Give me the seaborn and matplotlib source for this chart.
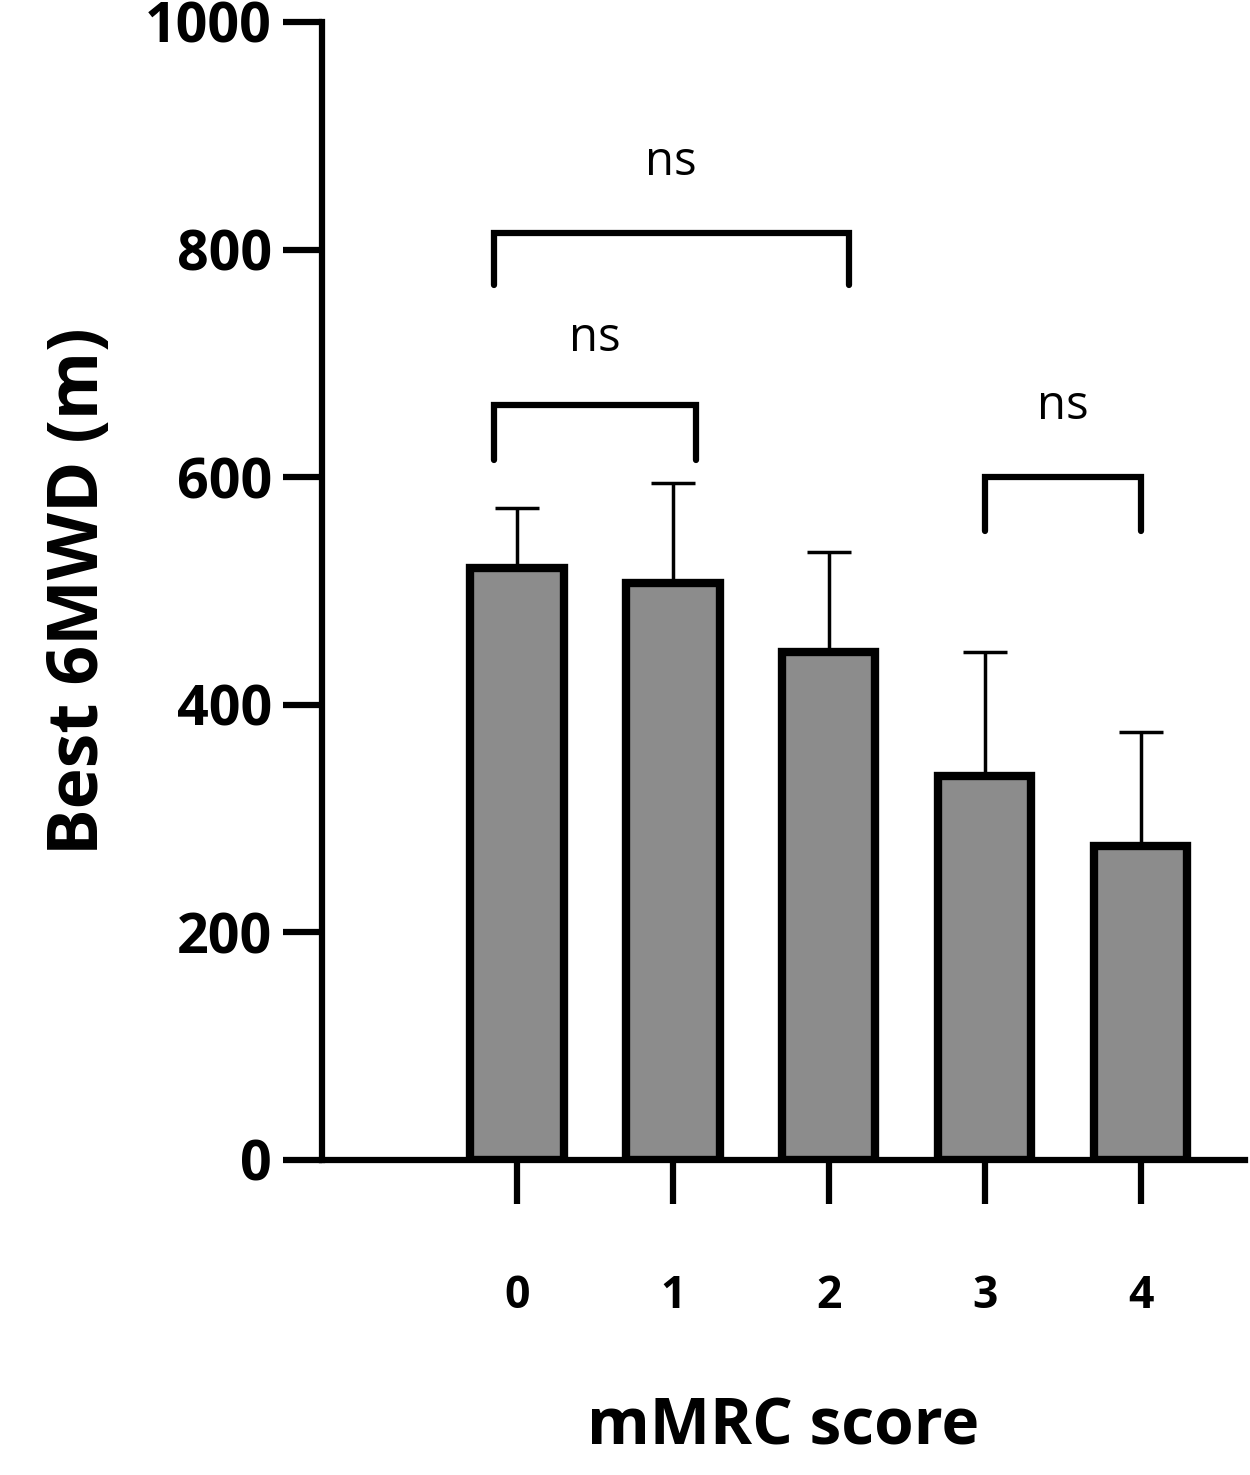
import matplotlib
matplotlib.use("Agg")
import matplotlib.pyplot as plt
import seaborn as sns
import pandas as pd

# Data
scores = ["0", "1", "2", "3", "4"]
means = [520, 507, 446, 337, 276]
err_tops = [573, 595, 534, 446, 376]

# Significance brackets: (x_left, x_right, bar height, leg bottom, label height)
brackets = [
    (-0.15, 1.15, 663, 615, 722),
    (-0.15, 2.13, 815, 769, 877),
    (3.0, 4.0, 600, 553, 662),
]
bracket_labels = ["ns", "ns", "ns"]

sns.set_style("ticks")
plt.rcParams["font.family"] = ["Open Sans", "DejaVu Sans"]
plt.rcParams["text.color"] = "black"
plt.rcParams["axes.labelcolor"] = "black"
plt.rcParams["axes.edgecolor"] = "black"
plt.rcParams["xtick.color"] = "black"
plt.rcParams["ytick.color"] = "black"

df = pd.DataFrame({"score": scores, "mean": means})
fig = plt.figure(figsize=(12.5, 14.75), dpi=100)
ax = fig.add_axes([0.2576, 0.2136, 0.7384, 0.7715])

sns.barplot(data=df, x="score", y="mean", ax=ax, color="#8c8c8c", saturation=1,
            edgecolor="black", linewidth=6, width=0.6, errorbar=None)

# One-sided error bars (upper only)
upper = [t - m for t, m in zip(err_tops, means)]
ax.errorbar(range(len(scores)), means, yerr=[[0] * len(scores), upper], fmt="none",
            ecolor="black", elinewidth=2.5, capsize=16, capthick=2.5, zorder=1)

# Brackets
for (x0, x1, y, yb, yl), lab in zip(brackets, bracket_labels):
    ax.plot([x0, x0, x1, x1], [yb, y, y, yb], color="black", lw=4.5,
            solid_joinstyle="miter", clip_on=False)
    ax.text((x0 + x1) / 2, yl, lab, ha="center", va="center", fontsize=34)

ax.set_xlim(-1.25, 4.67)
ax.set_ylim(0, 1000)
ax.set_yticks([0, 200, 400, 600, 800, 1000])
sns.despine(ax=ax)
for sp in ["left", "bottom"]:
    ax.spines[sp].set_linewidth(4.5)
ax.tick_params(axis="y", length=28, width=4.5, labelsize=40, pad=8)
ax.tick_params(axis="x", length=32, width=4.5, labelsize=32, pad=50)
for lab in ax.get_yticklabels() + ax.get_xticklabels():
    lab.set_fontweight("bold")

ax.set_xlabel("mMRC score", fontsize=46, fontweight="bold", labelpad=55)
ax.set_ylabel("Best 6MWD (m)", fontsize=50, fontweight="bold", labelpad=22)

plt.savefig("out.png", dpi=100)
